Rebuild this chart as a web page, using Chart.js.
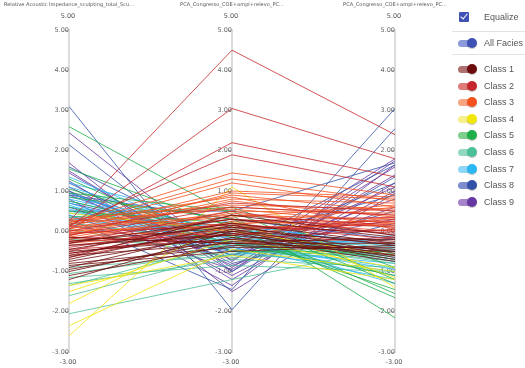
<!DOCTYPE html>
<html>
<head>
<meta charset="utf-8">
<script src="https://cdn.jsdelivr.net/npm/chart.js"></script>
<style>
    body { margin: 0; background: #fff; font-family: 'Liberation Sans', Arial, sans-serif; }
    #wrap { position: relative; width: 525px; height: 368px; overflow: hidden; }
    #pcChart { position: absolute; left: 0; top: 0; }
    .side { position: absolute; left: 452px; top: 0; width: 73px; }
    .row { position: absolute; left: 0; width: 73px; height: 14px; }
    .row span { position: absolute; left: 32px; top: 0; font-size: 9px; line-height: 14px; color: #555; white-space: nowrap; }
    .track { position: absolute; left: 6px; top: 4px; width: 15px; height: 7px; border-radius: 4px; }
    .knob { position: absolute; left: 15px; top: 2px; width: 10px; height: 10px; border-radius: 50%; box-shadow: 0 1px 1px rgba(0,0,0,0.25); }
    .check { position: absolute; left: 7px; top: 2px; width: 10px; height: 10px; background: #3f51b5; border-radius: 1px; }
    .check:after { content: ''; position: absolute; left: 3px; top: 0px; width: 3px; height: 6px; border: solid #fff; border-width: 0 1.5px 1.5px 0; transform: rotate(40deg); }
    .sep { position: absolute; left: 0; width: 73px; height: 1px; background: #e3e3e3; }
</style>
</head>
<body>
<div id="wrap">
    <canvas id="pcChart" width="525" height="368"></canvas>
    <div class="side" id="side"></div>
</div>
<script>
// Parallel coordinates - facies per class

const axisNames = [
    'Relative Acoustic Impedance_sculpting_total_Scu...',
    'PCA_Congresso_COE+ampl+relevo_PC...',
    'PCA_Congresso_COE+ampl+relevo_PC...'
];
const axisMin = -3;
const axisMax = 5;

const classNames = ['Class 1', 'Class 2', 'Class 3', 'Class 4', 'Class 5', 'Class 6', 'Class 7', 'Class 8', 'Class 9'];
const classColors = ['#6d0c0c', '#c4282d', '#f4511e', '#f2e50a', '#1fae4a', '#4cc096', '#2ab7f4', '#3451a8', '#6637a0'];
const trackColors = ['#b07070', '#e07a78', '#f8a584', '#f6ef8c', '#80cf8e', '#93d9bf', '#8fd7f7', '#7d8dcf', '#a584cc'];

// each row: [left axis, middle axis, right axis]
const class1 = [
    [-0.25, 0.1, -0.35], [-0.35, -0.1, -0.5], [-0.45, 0.2, -0.3], [-0.5, -0.2, -0.6],
    [-0.55, 0.0, -0.25], [-0.6, -0.3, -0.45], [-0.7, 0.15, -0.55], [-0.75, -0.05, -0.7],
    [-0.8, -0.4, -0.4], [-0.9, 0.05, -0.6], [-0.95, -0.25, -0.2], [-1.0, -0.15, -0.75],
    [-1.1, -0.35, -0.5], [-1.2, 0.0, -0.65], [-0.15, -0.3, -0.3], [-0.3, 0.3, -0.15],
    [-0.65, 0.4, -0.1], [-0.85, -0.5, -0.35]
];
const class2 = [
    [0.25, 4.5, 2.4], [0.1, 3.05, 1.8], [0.05, 2.2, 1.35], [0.15, 1.9, 1.1],
    [-0.1, 0.6, 0.4], [-0.2, 0.3, 0.1], [-0.25, -0.1, 0.25], [-0.3, 0.5, -0.1],
    [-0.35, 0.0, 0.3], [-0.4, 0.2, -0.2], [-0.45, -0.2, 0.05], [-0.5, 0.4, 0.15],
    [-0.55, -0.05, -0.3], [-0.65, 0.1, 0.0], [0.0, 0.7, 0.5], [-0.15, -0.3, -0.15],
    [-0.6, 0.25, 0.35], [-0.05, 0.15, -0.05]
];
const class3 = [
    [0.2, 1.45, 0.9], [0.15, 1.3, 0.75], [0.1, 1.2, 0.6], [0.05, 1.0, 0.85],
    [0.0, 0.9, 0.5], [-0.05, 0.8, 0.7], [-0.1, 0.75, 0.35], [0.3, 0.65, 0.55],
    [0.25, 0.55, 0.2], [-0.15, 0.5, 0.45], [-0.2, 0.45, 0.1], [0.12, 0.4, 0.3],
    [0.08, 0.35, 0.65], [-0.08, 0.3, 0.0], [0.18, 0.6, 0.4], [-0.25, 0.2, 0.25],
    [0.02, 0.1, 0.15], [-0.12, 0.95, 0.8], [0.22, 0.85, 0.05], [-0.3, 0.05, 0.2],
    [0.28, 0.15, 0.6], [-0.02, -0.1, 0.35]
];
const class4 = [
    [-2.6, 1.1, -1.4], [-2.35, -0.45, -1.0], [-1.8, 0.25, -1.15],
    [-1.5, -0.2, -0.9], [0.45, 0.0, -0.6], [-1.35, -0.6, -1.2]
];
const class5 = [
    [2.6, 0.4, -2.15], [1.55, 0.1, -1.65], [1.05, -0.1, -1.45], [0.85, 0.3, -1.3],
    [0.6, -0.3, -1.1], [0.35, 0.6, -0.9], [1.3, -0.5, -0.5], [0.5, 0.2, -1.55],
    [0.75, -0.15, -0.7], [0.95, 0.5, -1.2]
];
const class6 = [
    [-1.05, -0.5, -0.6], [-1.3, -0.7, -0.9], [-2.05, -1.2, -0.4], [-1.35, -0.3, -0.75],
    [-0.9, -0.6, -0.5], [-1.15, -0.85, -1.0], [-0.2, -0.4, -0.3], [0.2, -0.25, -0.8],
    [-1.6, -0.55, -0.35], [0.05, -0.65, -0.55]
];
const class7 = [
    [1.35, -0.3, -0.9], [1.1, -0.1, -0.5], [0.95, -0.4, -1.2], [0.85, 0.0, -0.7],
    [0.75, -0.2, -0.3], [0.7, -0.5, -1.0], [0.6, 0.1, -0.6], [0.55, -0.35, -0.2],
    [0.5, -0.15, -1.3], [0.45, 0.05, -0.45], [0.4, -0.45, -0.8], [0.35, -0.25, -1.1],
    [0.3, 0.15, -0.35], [0.25, -0.05, -0.65], [0.65, -0.6, -0.1], [0.2, -0.3, -0.95],
    [1.2, 0.2, -0.4], [0.8, -0.1, -0.75]
];
const class8 = [
    [3.1, -1.95, 2.55], [2.15, -1.0, 1.35], [0.3, -1.45, 3.05], [1.6, -0.4, 1.65],
    [1.0, -0.6, 0.5], [0.7, -0.2, 0.9], [0.5, 0.5, 1.7], [1.2, -0.8, 0.2],
    [0.9, 0.3, -0.2], [0.15, -0.5, 1.2]
];
const class9 = [
    [2.45, -0.75, 1.8], [1.5, -1.0, 1.75], [1.45, -0.9, 1.6], [1.25, -1.2, 1.2],
    [1.0, -1.1, 1.0], [0.9, -0.6, 0.8], [0.8, -1.35, 1.65], [1.1, -0.85, 0.6],
    [0.6, -0.7, 1.1], [0.95, -0.5, 0.3], [1.7, -1.5, 0.95], [0.4, -0.95, 1.4]
];
const classData = [class1, class2, class3, class4, class5, class6, class7, class8, class9];

function hexToRgba(hex, a) {
    const n = parseInt(hex.slice(1), 16);
    return 'rgba(' + (n >> 16) + ',' + ((n >> 8) & 255) + ',' + (n & 255) + ',' + a + ')';
}

// Build one dataset per sample line
const datasets = [];
classData.forEach(function(rows, c) {
    rows.forEach(function(row) {
        datasets.push({
            label: classNames[c],
            data: row.map(function(v, i) { return { x: i, y: v }; }),
            borderColor: hexToRgba(classColors[c], 0.8),
            borderWidth: 1,
            pointRadius: 0,
            tension: 0,
            yAxisID: 'y0'
        });
    });
});

function makeAxis(i) {
    return {
        axis: 'y',
        type: 'linear',
        position: { x: i },
        min: axisMin,
        max: axisMax,
        ticks: {
            stepSize: 1,
            padding: 2,
            color: '#666',
            font: { size: 6.5, family: 'DejaVu Sans' },
            callback: function(v) { return v.toFixed(2); }
        },
        grid: { drawOnChartArea: false, tickLength: 3, color: '#bbb' },
        border: { display: true, color: '#dcdcdc', width: 2 }
    };
}

// Axis titles and min/max labels above and below each axis
const axisTextPlugin = {
    id: 'axisText',
    afterDraw: function(chart) {
        const ctx = chart.ctx;
        const xs = chart.scales.x;
        ctx.save();
        ctx.fillStyle = '#555';
        ctx.textAlign = 'center';
        ctx.textBaseline = 'middle';
        axisNames.forEach(function(name, i) {
            const px = xs.getPixelForValue(i);
            ctx.font = '5.1px "DejaVu Sans"';
            ctx.fillText(name, px, 5);
            ctx.font = '6.5px "DejaVu Sans"';
            ctx.fillText(axisMax.toFixed(2), px - 1, 16);
            ctx.fillText(axisMin.toFixed(2), px - 1, 362);
        });
        ctx.restore();
    }
};

const ctx = document.getElementById('pcChart').getContext('2d');
const pcChart = new Chart(ctx, {
    type: 'line',
    data: { datasets: datasets },
    options: {
        responsive: false,
        animation: false,
        layout: { padding: { left: 69, right: 130, top: 30, bottom: 16 } },
        scales: {
            x: { type: 'linear', min: 0, max: 2, display: false },
            y0: makeAxis(0),
            y1: makeAxis(1),
            y2: makeAxis(2)
        },
        plugins: {
            legend: { display: false },
            tooltip: { enabled: false }
        }
    },
    plugins: [axisTextPlugin]
});

// Side panel: equalize checkbox and facies toggles
const side = document.getElementById('side');
let html = '';
html += '<div class="row" style="top:10px"><div class="check"></div><span>Equalize</span></div>';
html += '<div class="sep" style="top:31px"></div>';
html += '<div class="row" style="top:36px"><div class="track" style="background:#8c9ad9"></div>' +
        '<div class="knob" style="background:#3f51b5"></div><span>All Facies</span></div>';
html += '<div class="sep" style="top:54px"></div>';
classNames.forEach(function(name, c) {
    const top = 62 + c * 16.6;
    html += '<div class="row" style="top:' + top + 'px"><div class="track" style="background:' + trackColors[c] + '"></div>' +
            '<div class="knob" style="background:' + classColors[c] + '"></div><span>' + name + '</span></div>';
});
side.innerHTML = html;
</script>
</body>
</html>
